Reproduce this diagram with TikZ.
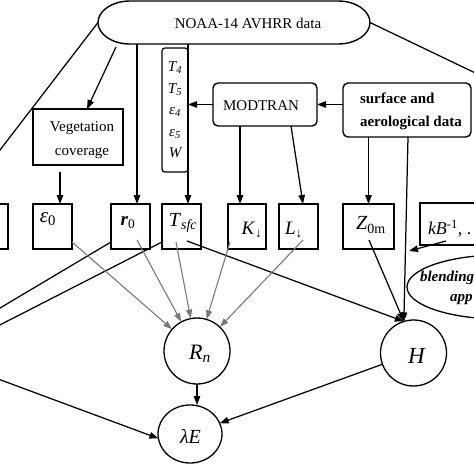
\documentclass[tikz,border=0pt]{standalone}
\usepackage{fontspec}
\setmainfont{Liberation Serif}
\usetikzlibrary{arrows.meta,calc,shapes.geometric}
\definecolor{gline}{RGB}{120,120,120}
\begin{document}
\begin{tikzpicture}[x=1pt,y=-1pt,
  every node/.style={inner sep=0pt,outer sep=0pt},
  box/.style={draw,line width=1.4pt,minimum height=45pt},
  rbox/.style={draw,line width=1.4pt,rounded corners=5pt},
  circ/.style={draw,line width=1.3pt,circle,minimum size=66pt},
  ln/.style={line width=1.25pt},
  arr/.style={line width=1.25pt,-{Triangle[length=9pt,width=6.5pt]}},
  garr/.style={line width=1.1pt,draw=gline,-{Triangle[length=9pt,width=6pt]},gline},
  txt/.style={font=\fontsize{15}{18}\selectfont},
  sym/.style={font=\fontsize{19}{20}\selectfont}
]
\useasboundingbox (0,0) rectangle (474,474);
\clip (0,0) rectangle (474,474);

% top data source
\node[minimum width=272pt,minimum height=43pt] (noaa) at (234,22.5) {};
\draw[line width=1.4pt] ($(noaa.north west)+(32,0)$) -- ($(noaa.north east)+(-32,0)$)
  arc[start angle=-90,end angle=90,x radius=32,y radius=21.5]
  -- ($(noaa.south west)+(32,0)$)
  arc[start angle=90,end angle=270,x radius=32,y radius=21.5] -- cycle;
\node[txt] (noaat) at (248,23) {NOAA-14 AVHRR data};

% boxes
\node[draw,line width=1.3pt,rounded corners=3pt,minimum width=26pt,minimum height=124pt] (tbox) at (175,110) {};
\node[align=center,font=\fontsize{15}{21.5}\selectfont\itshape] (tlist) at (175,110)
  {T\textsubscript{4}\\T\textsubscript{5}\\ε\textsubscript{4}\\ε\textsubscript{5}\\W};
\node[rbox,minimum width=104pt,minimum height=43pt] (modtran) at (265,104.5) {};
\node[txt] (modt) at (261,106) {MODTRAN};
\node[rbox,minimum width=128pt,minimum height=54pt] (surf) at (407,110) {};
\node[align=left,anchor=west,font=\fontsize{15}{23}\bfseries\selectfont] (surft) at (360,111.5) {surface and\\aerological data};
\node[draw,line width=1.4pt,minimum width=90pt,minimum height=56pt] (veg) at (78,137) {};
\node[align=center,font=\fontsize{15}{24}\selectfont] (vegt) at (82,140) {Vegetation\\coverage};

% row of parameters
\node[box,minimum width=38pt] (left) at (-11,226.5) {};
\node[box,minimum width=39pt] (eps0) at (52.5,226.5) {};
\node[sym,font=\fontsize{21}{22}\selectfont] (eps0t) at (48,219) {\textit{ε}\textsubscript{0}};
\node[box,minimum width=39pt] (r0) at (130.5,226.5) {};
\node[sym] (r0t) at (128,223) {\textbf{\textit{r}}\textsubscript{0}};
\node[box,minimum width=39pt] (tsfc) at (181.5,226.5) {};
\node[sym,font=\fontsize{20}{20}\selectfont] (tsfct) at (183,223) {\textit{T}\textsubscript{\textit{sfc}}};
\node[box,minimum width=38pt] (K) at (247,226.5) {};
\node[sym] (Kt) at (252,230) {\textit{K}\textsubscript{↓}};
\node[box,minimum width=39pt] (L) at (298.5,226.5) {};
\node[sym] (Lt) at (294,230) {\textit{L}\textsubscript{↓}};
\node[box,minimum width=51pt] (Z) at (368.5,226.5) {};
\node[sym,font=\fontsize{20}{20}\selectfont] (Zt) at (371,225) {\textit{Z}\textsubscript{0m}};
\node[draw,line width=1.4pt,minimum width=80pt,minimum height=42pt] (kB) at (460,224) {};
\node[sym,anchor=west,font=\fontsize{18}{20}\selectfont] (kBt) at (428,229) {\textit{kB}\textsuperscript{-1}, .};
\node[draw,line width=1.3pt,ellipse,minimum width=186pt,minimum height=64pt] (blend) at (500,287) {};
\node[anchor=west,font=\fontsize{15}{18}\bfseries\itshape\selectfont] (bl1) at (420,278) {blending};
\node[anchor=west,font=\fontsize{15}{18}\bfseries\itshape\selectfont] (bl2) at (450,300) {app};

% result nodes
\node[circ] (Rn) at (197,351) {};
\node[font=\fontsize{22}{24}\selectfont] (Rnt) at (200,354) {\textit{R}\textsubscript{\textit{n}}};
\node[circ] (H) at (413.5,353) {};
\node[font=\fontsize{23}{24}\selectfont] (Ht) at (417,356) {\textit{H}};
\node[draw,line width=1.3pt,ellipse,minimum width=64pt,minimum height=58pt] (lE) at (190,434) {};
\node[font=\fontsize{20}{22}\selectfont] (lEt) at (190.5,436) {\textit{λE}};

% off-picture ends
\coordinate (offA) at (-10,163);
\coordinate (offB) at (490,80);
\coordinate (offC) at (-10,376);
\coordinate (offD) at (-10,314);
\coordinate (offE) at (-10,330);
\coordinate (r0in) at ($(r0.north)+(6.5,0)$);
\coordinate (tsfcin) at ($(tsfc.north)+(6.5,0)$);
\coordinate (eps0in) at ($(eps0.north)+(7.5,0)$);
\coordinate (Kin) at ($(K.north)+(-7,0)$);
\coordinate (kBend) at (409,251);

% connectors
\draw[ln] (noaa.west) -- (offA);
\draw[ln] (noaa.east) -- (offB);
\draw[arr] ($(noaa.south west)+(18,3)$) -- ($(veg.north)+(9,0)$);
\draw[arr] (noaa.south -| r0in) -- (r0in);
\draw[arr] (noaa.south -| tsfcin) -- (tsfcin);
\draw[arr] ($(veg.south -| eps0in)+(0,7)$) -- (eps0in);
\draw[arr] (modtran.west) -- (modtran.west -| tbox.east);
\draw[arr] (surf.west |- modtran.east) -- (modtran.east);
\draw[arr] (modtran.south -| Kin) -- (Kin);
\draw[arr] ($(modtran.south west)+(78,0)$) -- ($(L.north)+(4.5,0)$);
\draw[arr] (surf.south -| Z.north) -- (Z.north);
\draw[arr] ($(surf.south west)+(65,0)$) -- (H.107);
\draw[arr] ($(Z.south)+(0.5,-9)$) -- (H.107);
\draw[arr] ($(tsfc.south east)+(-14,-8)$) -- (H.107);
\draw[arr] ($(kB.south west)+(26,-4)$) -- (kBend);
\draw[arr] (H) -- (lE);
\draw[arr] (Rn.south) -- (Rn.south |- lE.north);
\draw[arr] (offC) -- (lE.188);
\draw[ln] ($(r0.south west)+(0,-7)$) -- (offD);
\draw[ln] ($(tsfc.south west)+(0,-7)$) -- (offE);

% grey inputs to net radiation
\draw[garr] ($(eps0.south east)+(0,-7)$) -- (Rn);
\draw[garr] ($(r0.south)+(6.5,-9)$) -- (Rn);
\draw[garr] ($(tsfc.south)+(-5.5,-7)$) -- (Rn);
\draw[garr] ($(K.south west)+(2,-7)$) -- (Rn);
\draw[garr] ($(L.south)+(4.5,-9)$) -- (Rn);
\end{tikzpicture}
\end{document}
